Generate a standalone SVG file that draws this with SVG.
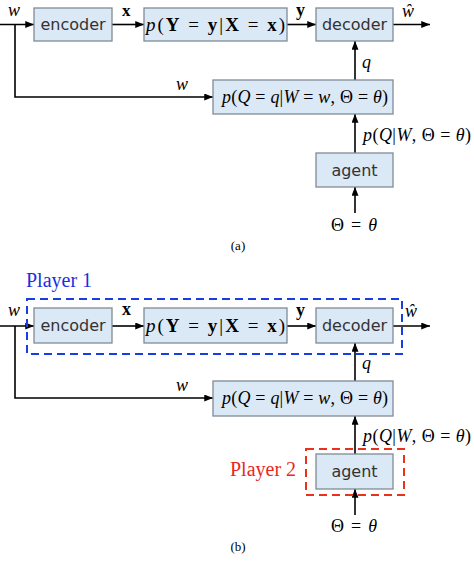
<svg xmlns="http://www.w3.org/2000/svg" width="474" height="579" viewBox="0 0 474 579">
<defs>
<style>
.box{fill:#dbe8f6;stroke:#808a94;stroke-width:1.3}
.lbl{font-family:"DejaVu Sans",sans-serif;font-size:16px;fill:#333;text-anchor:middle}
.m{font-family:"Liberation Serif",serif;font-size:18px;fill:#000}
.i{font-style:italic}
.b{font-weight:bold}
.ln{fill:none;stroke:#000;stroke-width:1.6}
.cap{font-family:"Liberation Serif",serif;font-size:13px;fill:#000;text-anchor:middle}
.pl{font-family:"Liberation Serif",serif;font-size:20px}
</style>
<marker id="a" viewBox="0 0 10 8" refX="10" refY="4" markerWidth="9" markerHeight="7" orient="auto" markerUnits="userSpaceOnUse">
<path d="M0,0 L10,4 L0,8 z" fill="#000"/>
</marker>
</defs>
<rect width="474" height="579" fill="#fff"/>

<!-- Panel (a) -->
<g id="connectors-a">
<path class="ln" d="M0,24.5 H34" marker-end="url(#a)"/>
<path class="ln" d="M112,24.5 H144" marker-end="url(#a)"/>
<path class="ln" d="M287,24.5 H316" marker-end="url(#a)"/>
<path class="ln" d="M393,24.5 H430" marker-end="url(#a)"/>
<path class="ln" d="M15,24.5 V97 H213" marker-end="url(#a)"/>
<path class="ln" d="M355,80 V41" marker-end="url(#a)"/>
<path class="ln" d="M355,153 V114" marker-end="url(#a)"/>
<path class="ln" d="M355,213 V187" marker-end="url(#a)"/>
<text class="m i" x="8" y="16">w</text>
<text class="m b" x="122" y="16" style="font-size:17px">x</text>
<text class="m b" x="296" y="16">y</text>
<text class="m i" x="402" y="17">ŵ</text>
<text class="m i" x="176" y="90">w</text>
<text class="m i" x="362" y="68">q</text>
<text class="m" x="363" y="141" textLength="108" lengthAdjust="spacing"><tspan class="i">p</tspan>(<tspan class="i">Q</tspan>|<tspan class="i">W</tspan>, Θ = <tspan class="i">θ</tspan>)</text>
<text class="m" x="331" y="231" textLength="46" lengthAdjust="spacing">Θ = <tspan class="i">θ</tspan></text>
</g>
<g id="a-encoder"><rect class="box" x="34" y="8" width="78" height="33"/><text class="lbl" x="73" y="30">encoder</text></g>
<g id="a-channel"><rect class="box" x="144" y="8" width="143" height="33"/><text class="m" x="146" y="31" textLength="139" lengthAdjust="spacing" style="font-size:19px"><tspan class="i">p</tspan>(<tspan class="b">Y</tspan> = <tspan class="b">y</tspan>|<tspan class="b">X</tspan> = <tspan class="b">x</tspan>)</text></g>
<g id="a-decoder"><rect class="box" x="316" y="8" width="77" height="33"/><text class="lbl" x="354.5" y="30">decoder</text></g>
<g id="a-pq"><rect class="box" x="213" y="80" width="180" height="34"/><text class="m" x="222" y="103" textLength="166" lengthAdjust="spacing"><tspan class="i">p</tspan>(<tspan class="i">Q</tspan> = <tspan class="i">q</tspan>|<tspan class="i">W</tspan> = <tspan class="i">w</tspan>, Θ = <tspan class="i">θ</tspan>)</text></g>
<g id="a-agent"><rect class="box" x="316" y="153" width="77" height="34"/><text class="lbl" x="354.5" y="176">agent</text></g>
<text class="cap" x="238" y="250">(a)</text>

<!-- Panel (b) -->
<g id="connectors-b">
<path class="ln" d="M0,326 H34" marker-end="url(#a)"/>
<path class="ln" d="M112,326 H144" marker-end="url(#a)"/>
<path class="ln" d="M287,326 H316" marker-end="url(#a)"/>
<path class="ln" d="M393,326 H430" marker-end="url(#a)"/>
<path class="ln" d="M15,326 V398 H213" marker-end="url(#a)"/>
<path class="ln" d="M355,381 V343" marker-end="url(#a)"/>
<path class="ln" d="M355,454 V416" marker-end="url(#a)"/>
<path class="ln" d="M355,515 V489" marker-end="url(#a)"/>
<text class="m i" x="8" y="316">w</text>
<text class="m b" x="122" y="315">x</text>
<text class="m b" x="296" y="316">y</text>
<text class="m i" x="405" y="317">ŵ</text>
<text class="m i" x="176" y="391">w</text>
<text class="m i" x="362" y="369">q</text>
<text class="m" x="363" y="442" textLength="108" lengthAdjust="spacing"><tspan class="i">p</tspan>(<tspan class="i">Q</tspan>|<tspan class="i">W</tspan>, Θ = <tspan class="i">θ</tspan>)</text>
<text class="m" x="331" y="532" textLength="46" lengthAdjust="spacing">Θ = <tspan class="i">θ</tspan></text>
</g>
<g id="player1"><rect x="27" y="299" width="375" height="55" fill="none" stroke="#1a3de0" stroke-width="2" stroke-dasharray="8,5"/><text class="pl" x="26" y="287" fill="#1a2ee0">Player 1</text></g>
<g id="b-encoder"><rect class="box" x="34" y="308" width="78" height="35"/><text class="lbl" x="73" y="331">encoder</text></g>
<g id="b-channel"><rect class="box" x="144" y="308" width="143" height="35"/><text class="m" x="146" y="332" textLength="139" lengthAdjust="spacing" style="font-size:19px"><tspan class="i">p</tspan>(<tspan class="b">Y</tspan> = <tspan class="b">y</tspan>|<tspan class="b">X</tspan> = <tspan class="b">x</tspan>)</text></g>
<g id="b-decoder"><rect class="box" x="316" y="308" width="77" height="35"/><text class="lbl" x="354.5" y="331">decoder</text></g>
<g id="b-pq"><rect class="box" x="213" y="381" width="180" height="35"/><text class="m" x="222" y="404" textLength="166" lengthAdjust="spacing"><tspan class="i">p</tspan>(<tspan class="i">Q</tspan> = <tspan class="i">q</tspan>|<tspan class="i">W</tspan> = <tspan class="i">w</tspan>, Θ = <tspan class="i">θ</tspan>)</text></g>
<g id="b-agent"><rect class="box" x="316" y="454" width="77" height="35"/><text class="lbl" x="354.5" y="477">agent</text></g>
<g id="player2"><rect x="306" y="449" width="98" height="46" fill="none" stroke="#e8321e" stroke-width="2" stroke-dasharray="8,5"/><text class="pl" x="230" y="476" fill="#e8281e">Player 2</text></g>
<text class="cap" x="238" y="551">(b)</text>
</svg>
